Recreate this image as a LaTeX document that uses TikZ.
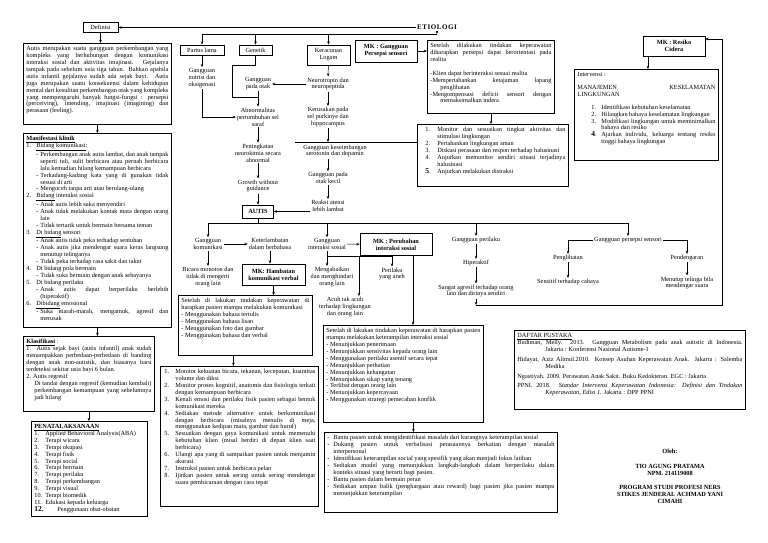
\documentclass[tikz,border=0pt]{standalone}
\usepackage{fontspec}
\setmainfont{Liberation Serif}
\newfontfamily\spacedfont[LetterSpace=8]{Liberation Serif}
\usetikzlibrary{arrows.meta}
\tolerance=10000
\hyphenpenalty=10000
\hbadness=10000
\vbadness=10000
\newcommand\fs{\fontsize{6.3}{6.9}\selectfont}
\newcommand\Li[4]{\par\hangindent=\dimexpr#1+#2\relax\hangafter=1\noindent\hspace*{#1}\makebox[#2][l]{#3}#4}
\newcommand\bnum[1]{\textbf{\fontsize{7.5}{6.9}\selectfont #1}}
\newcommand\pb[3]{\parbox[c][#2][t]{#1}{#3}}
\tikzset{
  ln/.style={line width=0.5pt, draw=black},
  arr/.style={ln, -{Stealth[length=3.2pt,width=2.6pt]}},
  bx/.style={draw, line width=0.8pt, inner sep=3pt, anchor=north west, font=\fs},
  sbx/.style={draw, line width=0.8pt, inner sep=0pt, align=center, font=\fs},
  tx/.style={inner sep=1pt, align=center, font=\fs},
  mk/.style={sbx, font=\fs\bfseries},
}
\begin{document}
\begin{tikzpicture}[x=1pt,y=-1pt]
\useasboundingbox (0,0) rectangle (768,543);

% ---------- left column ----------
\node[sbx, minimum width=35pt, minimum height=10pt] (def) at (100.5,27.5) {Definisi};
\node[inner sep=0.5pt, font=\fontsize{7}{7}\selectfont\spacedfont\bfseries] (etio) at (437,27.5) {ETIOLOGI};

\node[bx] (autisdef) at (23,43) {\pb{142pt}{75pt}{Autis merupakan suatu gangguan perkembangan yang kompleks yang berhubungan dengan komunikasi interaksi sosial dan aktivitas imajinasi. Gejalanya tampak pada sebelum usia tiga tahun. Bahkan apabila autis infantil gejalanya sudah ada sejak bayi. Autis juga merupakan suatu konsekuensi dalam kehidupan mental dari kesulitan perkembangan otak yang kompleks yang mempengaruhi banyak fungsi-fungsi : persepsi (perceiving), intending, imajinasi (imagining) dan perasaan (feeling).}};

\node[bx] (manif) at (23,133) {\pb{142pt}{188pt}{\textbf{\underline{Manifestasi klinik}}
\Li{0pt}{10pt}{1.}{\underline{Bidang komunikasi}:}
\Li{10pt}{4pt}{-}{Perkembangan anak autis lambat, dan anak tampak seperti tuli, sulit berbicara atau pernah berbicara lalu kemudian hilang kemampuan berbicara}
\Li{10pt}{4pt}{-}{Terkadang-kadang kata yang di gunakan tidak sesuai di arti}
\Li{10pt}{4pt}{-}{Mengoceh tanpa arti atau berulang-ulang}
\Li{0pt}{10pt}{2.}{\underline{Bidang} interaksi sosial}
\Li{10pt}{4pt}{-}{Anak autis lebih suka menyendiri}
\Li{10pt}{4pt}{-}{Anak tidak melakukan kontak mata dengan orang lain}
\Li{10pt}{4pt}{-}{Tidak tertarik untuk bermain bersama teman}
\Li{0pt}{10pt}{3.}{\underline{Di bidang} sensori}
\Li{10pt}{4pt}{-}{Anak autis tidak peka terhadap sentuhan}
\Li{10pt}{4pt}{-}{Anak autis jika mendengar suara keras langsung menutup telinganya}
\Li{10pt}{4pt}{-}{Tidak peka terhadap rasa sakit dan takut}
\Li{0pt}{10pt}{4.}{Di bidang pola bermain}
\Li{10pt}{4pt}{-}{Tidak suka bermain dengan anak sebayanya}
\Li{0pt}{10pt}{5.}{Di bidang perilaku}
\Li{10pt}{4pt}{-}{Anak autis dapat berperilaku berlebih\linebreak (hiperaktif)}
\Li{0pt}{10pt}{6.}{\underline{Dibidang} emosional}
\Li{10pt}{4pt}{-}{Suka marah-marah, mengamuk, agresif dan merusak}}};

\node[bx] (klas) at (23,336) {\pb{125pt}{69pt}{\textbf{\underline{Klasifikasi}} :\par
1. Autis sejak bayi (autis infantil) anak sudah menampakkan perbedaan-perbedaan di banding dengan anak non-autistik, dan biasanya baru terdeteksi sekitar usia bayi 6 bulan.\par
2. Autis regresif\par
{\leftskip=8pt Di tandai dengan regresif (kemudian kembali) perkembangan kemampuan yang sebelumnya jadi hilang\par}}};

\node[bx] (penata) at (31,421) {\pb{110pt}{89pt}{\textbf{\underline{PENATALAKSANAAN}}
\Li{0pt}{11pt}{1.}{Applied Behavioral Analysis(ABA)}
\Li{0pt}{11pt}{2.}{Terapi wicara}
\Li{0pt}{11pt}{3.}{Terapi okupasi}
\Li{0pt}{11pt}{4.}{Terapi fisik}
\Li{0pt}{11pt}{5.}{Terapi social}
\Li{0pt}{11pt}{6.}{Terapi bermain}
\Li{0pt}{11pt}{7.}{Terapi perilaku}
\Li{0pt}{11pt}{8.}{Terapi perkembangan}
\Li{0pt}{11pt}{9.}{Terapi visual}
\Li{0pt}{11pt}{10.}{Terapi biomedik}
\Li{0pt}{11pt}{11.}{Edukasi kepada keluarga}
\Li{0pt}{11pt}{\bnum{12.}}{\hspace{12pt}Penggunaan obat-obatan}}};

% ---------- etiologi ----------
\node[sbx, minimum width=44pt, minimum height=10pt] (partus) at (202,50) {Partus lama};
\node[sbx, minimum width=33pt, minimum height=10pt] (genetik) at (255.5,50) {Genetik};
\node[sbx, minimum width=43pt, minimum height=20pt] (keracunan) at (328.5,55) {Keracunan\\Logam};
\node[mk, minimum width=62pt, minimum height=22pt] (mkpers) at (386,51) {MK : Gangguan\\Persepsi sensori};

\node[tx] (gnutrisi) at (202,78) {Gangguan\\nutrisi dan\\oksigenasi};
\node[tx] (gotak) at (258,84) {Gangguan\\pada otak};
\node[tx] (neuro) at (328,84) {Neurotropin dan\\neuropeptida};
\node[tx] (abnormal) at (258,117) {Abnormalitas\\pertumbuhan sel\\saraf};
\node[tx] (kerusakan) at (328,117) {Kerusakan pada\\sel purkinye dan\\hippocampus};
\node[tx] (peningkatan) at (258,153) {Peningkatan\\neurokimia secara\\abnormal};
\node[tx] (keseimb) at (335,151) {Gangguan keseimbangan\\serotonin dan dopamin};
\node[tx] (growth) at (258,186) {Growth without\\guidance};
\node[tx] (otakkecil) at (328,178) {Gangguan pada\\otak kecil};
\node[tx] (reaksi) at (328,206) {Reaksi atensi\\lebih lambat};
\node[mk, minimum width=31pt, minimum height=13pt] (autis) at (258,211.5) {AUTIS};

\node[bx] (persint) at (427,40) {\pb{121pt}{67pt}{Setelah dilakukan tindakan keperawatan diharapkan persepsi dapat berorientasi pada realita\par\vspace{6.9pt}
-Klien dapat berinteraksi sesuai realita\par
\hangindent=10pt\hangafter=1 -Mempertahankan ketajaman lapang\linebreak penglihatan\par
\hangindent=10pt\hangafter=1 -Mengompensasi deficit sensori dengan\linebreak memaksimalkan indera}};

\node[bx] (monpers) at (417,124) {\pb{145pt}{56pt}{%
\Li{5pt}{12pt}{1.}{Monitor dan sesuaikan tingkat aktivitas dan stimulasi lingkungan}
\Li{5pt}{12pt}{2.}{Pertahankan lingkungan aman}
\Li{5pt}{12pt}{3.}{Diskusi perasaan dan respon terhadap halusinasi}
\Li{5pt}{12pt}{4.}{Anjurkan memonitor sendiri situasi terjadinya halusinasi}
\Li{5pt}{12pt}{\bnum{5}.}{Anjurkan melakukan distraksi}}};

\node[mk, minimum width=62pt, minimum height=20pt] (mkres) at (674,46) {MK : Resiko\\Cidera};

\node[bx] (interv) at (574,69) {\pb{138pt}{85pt}{Intervensi :\par\vspace{6pt}
MANAJEMEN\hfill KESELAMATAN\\LINGKUNGAN\par\vspace{6pt}
\Li{14pt}{10pt}{1.}{Identifikasi kebutuhan keselamatan}
\Li{14pt}{10pt}{2.}{Hilangkan bahaya keselamatan lingkungan}
\Li{14pt}{10pt}{3.}{Modifikasi lingkungan untuk meminimalkan bahaya dan resiko}
\Li{14pt}{10pt}{\bnum{4}.}{Ajarkan individu, keluarga tentang resiko tinggi bahaya lingkungan}}};

% ---------- manifestations row ----------
\node[tx] (gkom) at (208,244) {Gangguan\\komunikasi};
\node[tx] (keterl) at (270,244) {Keterlambatan\\dalam berbahasa};
\node[tx] (ginter) at (327,244) {Gangguan\\interaksi sosial};
\node[mk, minimum width=72pt, minimum height=22pt] (mkperub) at (396,244.5) {MK : Perubahan\\interaksi sosial};
\node[tx] (gperil) at (476,240) {Gangguan perilaku};
\node[tx] (gpersep) at (628,240) {Gangguan persepsi sensori};

\node[tx] (bicara) at (208,277) {Bicara monoton dan\\tidak di mengerti\\orang lain};
\node[mk, minimum width=63pt, minimum height=21pt] (mkhamb) at (273.5,274.5) {MK: Hambatan\\komunikasi verbal};
\node[tx] (mengab) at (332,277) {Mengabaikan\\dan menghindari\\orang lain};
\node[tx] (aneh) at (392,274) {Perilaku\\yang aneh};
\node[tx] (acuh) at (345,307) {Acuh tak acuh\\terhadap lingkungan\\dan orang lain};
\node[tx] (hiper) at (476,263) {Hiperaktif};
\node[tx] (sangat) at (476,291) {Sangat agresif terhadap orang\\lain dan dirinya sendiri};
\node[tx] (pengl) at (568,258) {Penglihatan};
\node[tx] (pend) at (687,258) {Pendengaran};
\node[tx] (sensitif) at (568,282) {Sensitif terhadap cahaya};
\node[tx] (menutup) at (687,283) {Menutup telinga bila\\mendengar suara};

% ---------- lower boxes ----------
\node[bx] (kombox) at (178,295) {\pb{128pt}{54pt}{Setelah di lakukan tindakan keperawatan di harapkan pasien mampu melakukan komunikasi\par
- Menggunakan bahasa tertulis\par
- Menggunakan bahasa lisan\par
- Menggunakan foto dan gambar\par
- Menggunakan bahasa dan verbal}};

\node[bx] (monkom) at (160,366) {\pb{152pt}{134pt}{%
\Li{1pt}{11pt}{1.}{Monitor kekuatan bicara, tekanan, kecepatan, kuantitas volume dan diksi}
\Li{1pt}{11pt}{2.}{Monitor proses kognitif, anatomis dan fisiologis terkait dengan kemampuan berbicara}
\Li{1pt}{11pt}{3.}{Kenali emosi dan perilaku fisik pasien sebagai bentuk komunikasi mereka}
\Li{1pt}{11pt}{4.}{Sediakan metode alternative untuk berkomunikasi dengan berbicara (misalnya menulis di meja, menggunakan kedipan mata, gambar dan huruf)}
\Li{1pt}{11pt}{5.}{Sesuaikan dengan gaya komunikasi untuk memenuhi kebutuhan klien (misal berdiri di depan klien saat berbicara)}
\Li{1pt}{11pt}{6.}{Ulangi apa yang di sampaikan pasien untuk menjamin akurasi}
\Li{1pt}{11pt}{7.}{Instruksi pasien untuk berbicara pelan}
\Li{1pt}{11pt}{8.}{Ijinkan pasien untuk sering untuk sering mendengar suara pembicaraan dengan cara tepat}}};

\node[bx] (interbox) at (323,325) {\pb{154pt}{91pt}{Setelah di lakukan tindakan keperawatan di harapkan pasien mampu melakukan keterampilan interaksi sosial\par
- Menunjukkan penerimaan\par
- Menunjukkan sensivitas kepada orang lain\par
- Menggunakan perilaku asentif secara tepat\par
- Menunjukkan perhatian\par
- Menunjukkan kehangatan\par
- Menunjukkan sikap yang tenang\par
- Terlibat dengan orang lain\par
- Menunjukkan kepercayaan\par
- Menggunakan strategi pemecahan konflik}};

\node[bx] (bantu) at (324,432) {\pb{227pt}{74pt}{%
\Li{0pt}{6pt}{-}{Bantu pasien untuk mengidentifikasi masalah dari kurangnya keterampilan sosial}
\Li{0pt}{6pt}{-}{Dukung pasien untuk verbalisasi perasaannya berkaitan dengan masalah\linebreak interpersonal}
\Li{0pt}{6pt}{-}{Identifikasi keterampilan social yang spesifik yang akan menjadi fokus latihan}
\Li{0pt}{6pt}{-}{Sediakan model yang menunjukkan langkah-langkah dalam berperilaku dalam\linebreak konteks situasi yang berarti bagi pasien.}
\Li{0pt}{6pt}{-}{Bantu pasien dalam bermain peran}
\Li{0pt}{6pt}{-}{Sediakan umpan balik (penghargaan atau reward) bagi pasien jika pasien mampu\linebreak menunjukkan keterampilan}}};

\node[bx] (pustaka) at (514,330) {\pb{225pt}{73pt}{\underline{DAFTAR PUSTAKA}\par
\hangindent=28pt\hangafter=1 Budiman, Melly. 2013. Gangguan Metabolism pada anak autistic di Indonesia.\linebreak Jakarta : Konferensi Nasional Autisme-1\par\vspace{3pt}
\hangindent=28pt\hangafter=1 Hidayat, Aziz Alimul.2010. Konsep Asuhan Keperawatan Anak. Jakarta : Salemba\linebreak Medika\par\vspace{3pt}
Ngastiyah. 2009. Perawatan Anak Sakit. Buku Kedokteran. EGC : Jakarta\par\vspace{3pt}
\hangindent=28pt\hangafter=1 PPNI. 2018. \textit{Standar Intervensi Keperawatan Indonesia: Definisi dan Tindakan\linebreak Keperawatan, Edisi 1.} Jakarta : DPP PPNI}};

\node[font=\fs\bfseries, align=center, anchor=north, inner sep=0pt] (oleh) at (670,449)
  {Oleh:\\[8pt]TIO AGUNG PRATAMA\\NPM. 214119008\\[7pt]PROGRAM STUDI PROFESI NERS\\STIKES JENDERAL ACHMAD YANI\\CIMAHI};

% ---------- connectors ----------
\draw[arr] (etio.west) -- (def.east);
\draw[arr] (def.south) -- (def.south |- autisdef.north);
\draw[arr] (autisdef.south) -- (manif.north);
\draw[arr] (manif.south) -- (manif.south |- klas.north);
\draw[arr] (klas.south) -- (klas.south |- penata.north);

\coordinate (d0) at (437,34);
\coordinate (d1) at (202,34);
\draw[arr] (etio.south) -- (d0);
\draw[ln] (d1) -- (d0);
\draw[arr] (d1) -- (partus.north);
\draw[arr] (genetik.north |- d1) -- (genetik.north);
\draw[arr] (keracunan.north |- d1) -- (keracunan.north);

\draw[arr] (partus) -- (gnutrisi);
\draw[arr] (gnutrisi.south) |- (abnormal.west);
\draw[ln] (genetik.south) -- (255.5,65) -- (232,65) -- (232,97) -- (258,97);
\draw[arr] (gotak) -- (abnormal);
\draw[arr] (keracunan) -- (neuro);
\draw[arr] (neuro) -- (gotak);
\draw[arr] (neuro) -- (kerusakan);
\coordinate (kl) at (295,142);
\draw[arr] (kerusakan.south) -- (kerusakan.south |- kl);
\draw[ln] (kl) -- (kl -| monpers.west);
\draw[arr] (keseimb.south -| otakkecil.north) -- (otakkecil.north);
\draw[arr] (otakkecil) -- (reaksi);
\draw[arr] (reaksi.west |- autis.east) -- (autis.east);
\draw[arr] (abnormal) -- (peningkatan);
\draw[arr] (peningkatan) -- (growth);
\draw[arr] (growth) -- (autis);

\draw[arr] (mkpers.east) -- (mkpers.east -| persint.west);
\draw[arr] (persint.south) -- (persint.south |- monpers.north);
\draw[arr] ([xshift=-26pt]mkres.south) -- ([xshift=-26pt]mkres.south |- interv.north);

\coordinate (e1) at (208,223);
\coordinate (e4) at (628,223);
\draw[ln] (autis.south) -- (autis.south |- e1);
\draw[ln] (e1) -- (e4);
\draw[arr] (e1) -- (gkom.north);
\draw[arr] (ginter.north |- e1) -- (ginter.north);
\draw[arr] (gperil.north |- e1) -- (gperil.north);
\draw[arr] (e4) -- (gpersep.north);

\draw[arr] (gkom) -- (keterl);
\draw[arr] (ginter) -- (mkperub);
\draw[arr] (keterl.south) -- (keterl.south |- mkhamb.north);
\draw[arr] (gkom) -- (bicara);

\coordinate (g1) at (327,256);
\coordinate (g2) at (359,256);
\coordinate (g3) at (392,256);
\draw[ln] (ginter.south) -- (g1) -- (g3);
\draw[arr] (g1) -- (g1 |- mengab.north);
\draw[arr] (g2) -- (g2 |- acuh.north);
\draw[arr] (g3) -- (g3 |- aneh.north);
\draw[arr] ([xshift=17pt]mkperub.south) -- ([xshift=17pt]mkperub.south |- interbox.north);

\draw[arr] (mkhamb.south) -- (mkhamb.south |- kombox.north);
\draw[arr] ([xshift=-12pt]kombox.south) -- ([xshift=-12pt]kombox.south |- monkom.north);
\draw[arr] ([xshift=10pt]interbox.south) -- ([xshift=10pt]interbox.south |- bantu.north);

\draw[arr] (gperil) -- (hiper);
\draw[arr] (hiper) -- (sangat);
\coordinate (c1) at (722,305);
\coordinate (c2) at (722,39);
\draw[arr] (sangat.south) -- (sangat.south |- c1);
\draw[arr] (sangat.south |- c1) -- (c1) -- (c2) -- (c2 -| mkres.east);

\draw[arr] (gpersep.west) -| (pengl.north);
\draw[arr] (gpersep.east) -| (pend.north);
\draw[arr] (pengl) -- (sensitif);
\draw[arr] (pend) -- (menutup);
\end{tikzpicture}
\end{document}
